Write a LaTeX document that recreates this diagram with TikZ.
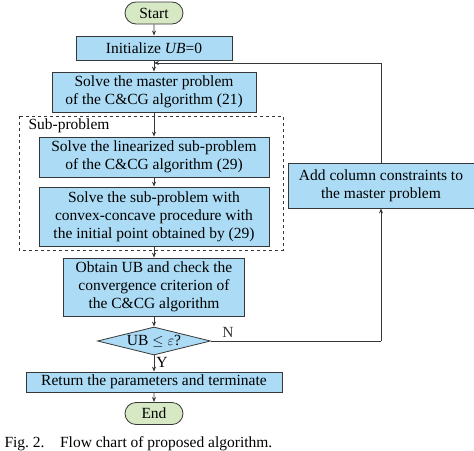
\documentclass[tikz,border=0pt]{standalone}
\usepackage{fontspec}
\setmainfont{Liberation Serif}
\usetikzlibrary{shapes.geometric,shapes.misc,arrows.meta}
\definecolor{boxblue}{RGB}{172,220,245}
\definecolor{termgreen}{RGB}{214,232,196}
\definecolor{linegray}{RGB}{55,55,55}
\begin{document}
\begin{tikzpicture}[x=1pt,y=-1pt,font=\fontsize{15.5}{18}\selectfont]
        \tikzstyle{proc}=[rectangle,draw=linegray,fill=boxblue,thick,align=center,inner sep=0pt]
        \tikzstyle{term}=[rounded rectangle,draw=linegray,fill=termgreen,thick,inner sep=0pt,minimum width=58pt,minimum height=22pt]
        \tikzstyle{edge}=[draw=linegray,thick,-{Stealth[length=5pt,width=4pt]}]
        \useasboundingbox (0,0) rectangle (474,450);
    	\begin{scope}
         \node [term] (start) at (154,13) {Start};
         \node [proc,minimum width=156pt,minimum height=24pt] (init) at (154,48) {Initialize \textit{UB}=0};
         \node [proc,minimum width=204pt,minimum height=40pt] (master) at (154,92) {Solve the master problem\\of the C\&CG algorithm (21)};
         \node [proc,minimum width=230pt,minimum height=40pt] (lin) at (154,157) {Solve the linearized sub-problem\\of the C\&CG algorithm (29)};
         \node [proc,minimum width=230pt,minimum height=59pt] (ccp) at (154,216.5) {Solve the sub-problem with\\convex-concave procedure with\\the initial point obtained by (29)};
         \node [proc,minimum width=181pt,minimum height=58pt] (obtain) at (154,287) {Obtain UB and check the\\convergence criterion of\\the C\&CG algorithm};
         \node [diamond,aspect=4,draw=linegray,fill=boxblue,thick,inner sep=0pt,minimum width=113pt,minimum height=28pt] (check) at (154,341) {UB $\leq\varepsilon$?};
         \node [proc,minimum width=256pt,minimum height=20pt] (ret) at (154,382) {Return the parameters and terminate};
         \node [term] (end) at (154,413.5) {End};
         \node [proc,minimum width=186pt,minimum height=45pt] (add) at (381,185.5) {Add column constraints to\\the master problem};

         % sub-problem frame
         \draw[linegray,thick,dashed] (19,116) rectangle (283,250);
         \node [anchor=west] (sublabel) at (25,126) {Sub-problem};

         \coordinate (join) at (154,63);
         \coordinate (turn) at (add.south |- check.east);

         \path[edge] (start) to (init);
         \path[edge] (init) to (master);
         \path[edge] (master) to (lin);
         \path[edge] (lin) to (ccp);
         \path[edge] (ccp) to (obtain);
         \path[edge] (obtain) to (check);
         \path[edge] (check) to node[anchor=west,pos=0.45,inner sep=2pt] {Y} (ret);
         \path[edge] (ret) to (end);

         \draw[linegray,thick] (check.east) -- node[above,pos=0.1] {N} (turn);
         \path[edge] (turn) to (add.south);
         \draw[edge] (add.north) |- (join);

         \node [anchor=west] (caption) at (1,444) {Fig.~2.\quad Flow chart of proposed algorithm.};
         \end{scope}
\end{tikzpicture}
\end{document}
